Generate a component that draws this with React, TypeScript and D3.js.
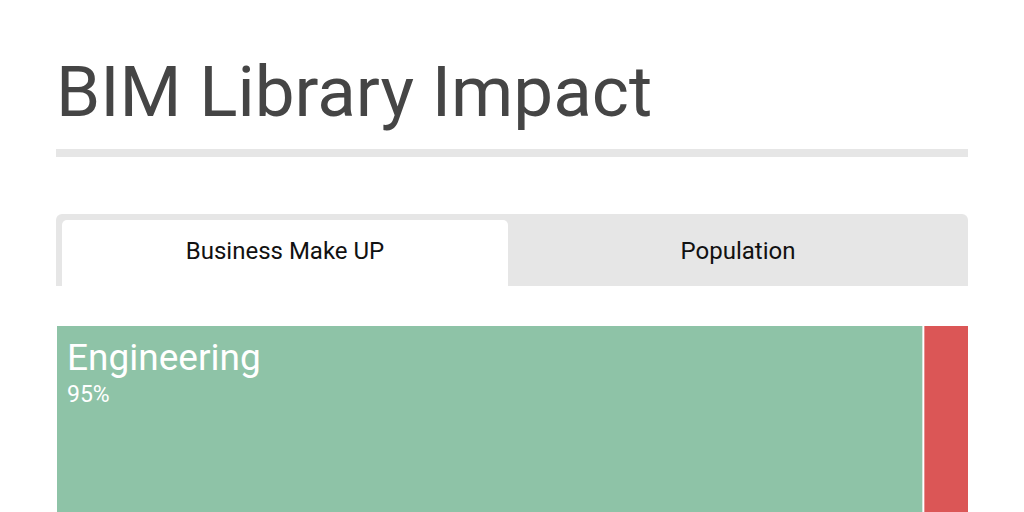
import React, { useEffect, useRef } from 'react';
import * as d3 from 'd3';

const TITLE = 'BIM Library Impact';
const TABS = ['Business Make UP', 'Population'];
const ACTIVE_TAB = 0;

const CATEGORIES = ['Engineering', 'Architecture'];
const SHARES = [95, 5];
const COLORS = ['#8ec3a7', '#db5656'];

const WIDTH = 1024;
const HEIGHT = 512;

interface Leaf {
  name: string;
  value: number;
  color: string;
}

export default function App() {
  const svgRef = useRef<SVGSVGElement>(null);

  useEffect(() => {
    if (!svgRef.current) return;
    const svg = d3.select(svgRef.current);
    svg.selectAll('*').remove();

    const left = 56;
    const right = 968;

    // title + rule
    svg.append('text')
      .attr('x', left)
      .attr('y', 116)
      .attr('font-family', 'Roboto')
      .attr('font-size', 71)
      .attr('fill', '#454545')
      .text(TITLE);

    svg.append('rect')
      .attr('x', left)
      .attr('y', 149)
      .attr('width', right - left)
      .attr('height', 8)
      .attr('fill', '#e6e6e6');

    // tab strip
    const tabTop = 214;
    const tabBottom = 286;
    const tabs = svg.append('g');
    tabs.append('rect')
      .attr('x', left).attr('y', tabTop)
      .attr('width', right - left).attr('height', tabBottom - tabTop)
      .attr('rx', 6).attr('fill', '#e6e6e6');
    tabs.append('rect')
      .attr('x', left).attr('y', tabTop + 10)
      .attr('width', right - left).attr('height', tabBottom - tabTop - 10)
      .attr('fill', '#e6e6e6');

    const tabX = d3.scaleBand<number>()
      .domain(d3.range(TABS.length))
      .range([left + 6, right]);

    TABS.forEach((label, i) => {
      const x0 = tabX(i)!;
      const w = tabX.bandwidth() - 7;
      if (i === ACTIVE_TAB) {
        tabs.append('rect')
          .attr('x', x0).attr('y', tabTop + 6)
          .attr('width', w).attr('height', tabBottom - tabTop - 6)
          .attr('rx', 5).attr('fill', '#ffffff');
        tabs.append('rect')
          .attr('x', x0).attr('y', tabTop + 16)
          .attr('width', w).attr('height', tabBottom - tabTop - 16)
          .attr('fill', '#ffffff');
      }
      tabs.append('text')
        .attr('x', x0 + w / 2)
        .attr('y', 259)
        .attr('text-anchor', 'middle')
        .attr('font-family', 'Roboto')
        .attr('font-size', 24)
        .attr('fill', '#111')
        .text(label);
    });

    // treemap
    const leaves: Leaf[] = CATEGORIES.map((name, i) => ({ name, value: SHARES[i], color: COLORS[i] }));
    const root = d3.hierarchy<any>({ name: 'root', children: leaves })
      .sum((d: any) => d.value || 0);
    const total = root.value || 1;

    const mapTop = 326;
    const mapLeft = 57;
    d3.treemap<any>()
      .tile(d3.treemapSquarify)
      .size([right - mapLeft, 420])
      .paddingInner(2)
      .round(false)(root);

    const g = svg.append('g').attr('transform', `translate(${mapLeft},${mapTop})`);
    const cells = g.selectAll('g.cell')
      .data(root.leaves() as d3.HierarchyRectangularNode<any>[])
      .enter().append('g')
      .attr('class', 'cell')
      .attr('transform', d => `translate(${d.x0},${d.y0})`);

    cells.append('rect')
      .attr('width', d => d.x1 - d.x0)
      .attr('height', d => d.y1 - d.y0)
      .attr('fill', d => d.data.color);

    // narrow cells get no label
    const labelled = cells.filter(d => d.x1 - d.x0 > 120);
    labelled.append('text')
      .attr('x', 10)
      .attr('y', 44)
      .attr('font-family', 'Roboto')
      .attr('font-size', 37)
      .attr('fill', '#fff')
      .text(d => d.data.name);
    labelled.append('text')
      .attr('x', 10)
      .attr('y', 76)
      .attr('font-family', 'Roboto')
      .attr('font-size', 23)
      .attr('fill', '#fff')
      .text(d => `${Math.round(((d.value || 0) / total) * 100)}%`);
  }, []);

  return (
    <svg
      ref={svgRef}
      width={WIDTH}
      height={HEIGHT}
      style={{ position: 'absolute', left: 0, top: 0, background: '#fff' }}
    />
  );
}
